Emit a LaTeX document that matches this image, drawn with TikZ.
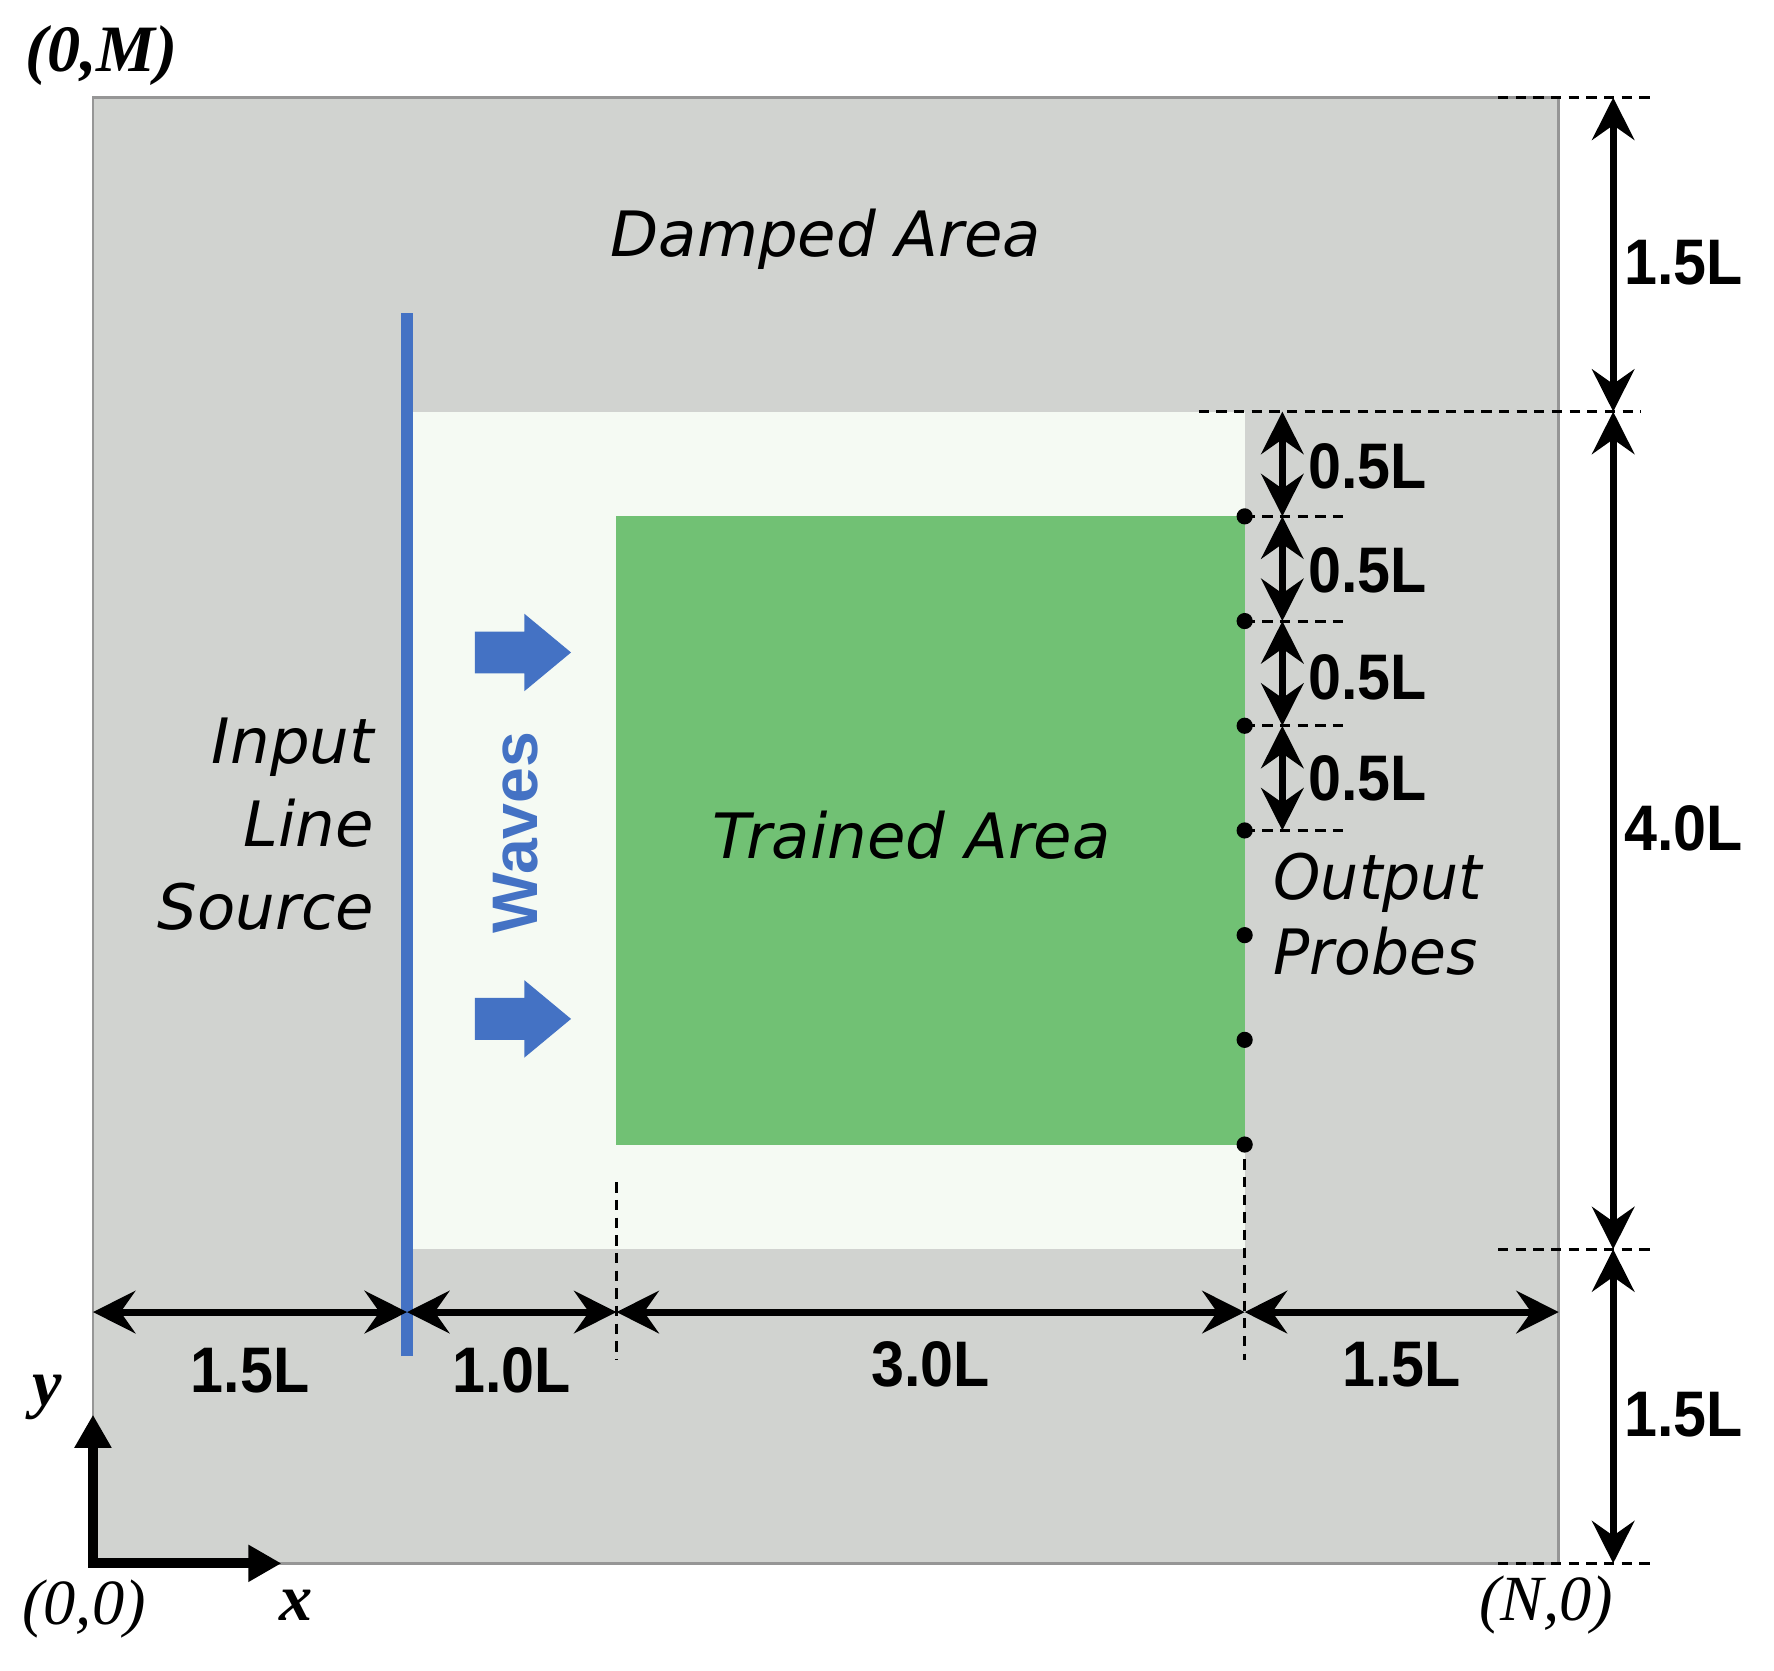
\documentclass[tikz,border=0pt]{standalone}
\usepackage{fontspec}
\usetikzlibrary{arrows.meta}
\newfontfamily\areafont{DejaVu Sans}
\newfontfamily\probefont[FakeStretch=0.96]{DejaVu Sans}
\newfontfamily\dimfont[FakeStretch=0.92]{Liberation Sans}
\newfontfamily\wavefont{Liberation Sans}
\newfontfamily\coordfont{Liberation Serif}
\definecolor{dampgray}{RGB}{209,211,208}
\definecolor{bordergray}{RGB}{150,150,150}
\definecolor{lightzone}{RGB}{245,250,243}
\definecolor{trainedgreen}{RGB}{113,193,116}
\definecolor{waveblue}{RGB}{68,114,196}
\tikzset{
  dimarrow/.style={line width=1.9pt,{Stealth[length=11.5pt,width=11.5pt,inset=4pt]}-{Stealth[length=11.5pt,width=11.5pt,inset=4pt]}},
  dimguide/.style={line width=0.8pt,dash pattern=on 2.8pt off 2pt},
  dimlabel/.style={inner sep=0pt,font=\dimfont\bfseries\fontsize{17.5}{20}\selectfont},
  arealabel/.style={inner sep=0pt,font=\areafont\itshape\fontsize{17}{22}\selectfont},
  coordlabel/.style={inner sep=0pt,font=\coordfont\itshape\fontsize{17.5}{20}\selectfont},
  probe/.style={fill=black},
  wavearrow/.style={fill=waveblue},
  axisarrow/.style={line width=2.7pt,line join=miter,{Triangle[length=9pt,width=9.5pt]}-{Triangle[length=9pt,width=9.5pt]}}
}
\begin{document}
\begin{tikzpicture}[x=2cm,y=2cm]
\useasboundingbox (-0.444,-0.511) rectangle (8.028,7.466);
% regions
\fill[dampgray] (0,0) rectangle (7,7);
\draw[bordergray,line width=0.8pt] (0,0) rectangle (7,7);
\fill[lightzone] (1.5,1.5) rectangle (5.5,5.5);
\fill[trainedgreen] (2.5,2) rectangle (5.5,5);
% input line source
\draw[waveblue,line width=3.3pt] (1.5,0.99) -- (1.5,5.97);
% wave arrows
\fill[wavearrow] (1.824,4.25) -- (2.06,4.25) -- (2.06,4.165) -- (2.283,4.35) -- (2.06,4.535) -- (2.06,4.45) -- (1.824,4.45) -- cycle;
\fill[wavearrow] (1.824,2.50) -- (2.06,2.50) -- (2.06,2.415) -- (2.283,2.60) -- (2.06,2.785) -- (2.06,2.70) -- (1.824,2.70) -- cycle;
% coordinates for dimensions
\coordinate (h0) at (0,1.2);
\coordinate (h1) at (1.5,1.2);
\coordinate (h2) at (2.5,1.2);
\coordinate (h3) at (5.5,1.2);
\coordinate (h4) at (7,1.2);
\coordinate (v0) at (7.26,0);
\coordinate (v1) at (7.26,1.5);
\coordinate (v2) at (7.26,5.5);
\coordinate (v3) at (7.26,7);
\coordinate (s0) at (5.68,5.5);
\coordinate (s1) at (5.68,5.0);
\coordinate (s2) at (5.68,4.5);
\coordinate (s3) at (5.68,4.0);
\coordinate (s4) at (5.68,3.5);
% guide lines
\draw[dimguide] (6.71,7) -- (7.45,7);
\draw[dimguide] (5.28,5.5) -- (7.39,5.5);
\draw[dimguide] (6.71,1.5) -- (7.45,1.5);
\draw[dimguide] (6.71,0) -- (7.45,0);
\foreach \yy in {5,4.5,4,3.5} \draw[dimguide] (5.5,\yy) -- (5.97,\yy);
\draw[dimguide] (2.5,1.82) -- (2.5,0.97);
\draw[dimguide] (5.5,1.93) -- (5.5,0.97);
% dimension arrows
\draw[dimarrow] (h0) -- (h1);
\draw[dimarrow] (h1) -- (h2);
\draw[dimarrow] (h2) -- (h3);
\draw[dimarrow] (h3) -- (h4);
\draw[dimarrow] (v3) -- (v2);
\draw[dimarrow] (v2) -- (v1);
\draw[dimarrow] (v1) -- (v0);
\draw[dimarrow] (s0) -- (s1);
\draw[dimarrow] (s1) -- (s2);
\draw[dimarrow] (s2) -- (s3);
\draw[dimarrow] (s3) -- (s4);
% probes
\foreach \yy [count=\i] in {5,4.5,4,3.5,3,2.5,2} \fill[probe] (5.5,\yy) circle (2.2pt) coordinate (p\i);
% dimension labels
\node[dimlabel] (lh1) at (0.75,0.92) {1.5L};
\node[dimlabel] (lh2) at (2.0,0.92) {1.0L};
\node[dimlabel] (lh3) at (4.0,0.95) {3.0L};
\node[dimlabel] (lh4) at (6.25,0.95) {1.5L};
\node[dimlabel,anchor=west] (lv3) at (7.31,6.21) {1.5L};
\node[dimlabel,anchor=west] (lv2) at (7.31,3.51) {4.0L};
\node[dimlabel,anchor=west] (lv1) at (7.31,0.71) {1.5L};
\node[dimlabel,anchor=west] (ls1) at (5.80,5.24) {0.5L};
\node[dimlabel,anchor=west] (ls2) at (5.80,4.74) {0.5L};
\node[dimlabel,anchor=west] (ls3) at (5.80,4.23) {0.5L};
\node[dimlabel,anchor=west] (ls4) at (5.80,3.75) {0.5L};
% area labels
\node[arealabel,anchor=base] (damped) at (3.5,6.24) {Damped Area};
\node[arealabel,anchor=base] (trained) at (3.91,3.365) {Trained Area};
\node[arealabel,anchor=east,align=right,font=\areafont\itshape\fontsize{17}{22.5}\selectfont] (source) at (1.345,3.53) {Input\\Line\\Source};
\node[arealabel,anchor=west,align=left,font=\probefont\itshape\fontsize{17}{20.5}\selectfont] (probes) at (5.635,3.10) {Output\\Probes};
\node[inner sep=0pt,font=\wavefont\bfseries\fontsize{17.5}{20}\selectfont,rotate=90,text=waveblue] (waves) at (2.02,3.49) {Waves};
% axes
\coordinate (ay) at (0,0.71);
\coordinate (ao) at (0,0);
\coordinate (ax) at (0.9,0);
\draw[axisarrow] (ay) -- (ao) -- (ax);
% coordinate labels
\node[coordlabel,font=\coordfont\bfseries\itshape\fontsize{18}{20}\selectfont] (cM) at (0.04,7.2) {(0,M)};
\node[coordlabel] (c00) at (-0.043,-0.22) {(0,0)};
\node[coordlabel] (cN) at (6.94,-0.2) {(N,0)};
\node[coordlabel,font=\coordfont\bfseries\itshape\fontsize{18}{20}\selectfont] (lx) at (0.97,-0.2) {x};
\node[coordlabel,font=\coordfont\bfseries\itshape\fontsize{18}{20}\selectfont] (ly) at (-0.22,0.79) {y};
\end{tikzpicture}
\end{document}
